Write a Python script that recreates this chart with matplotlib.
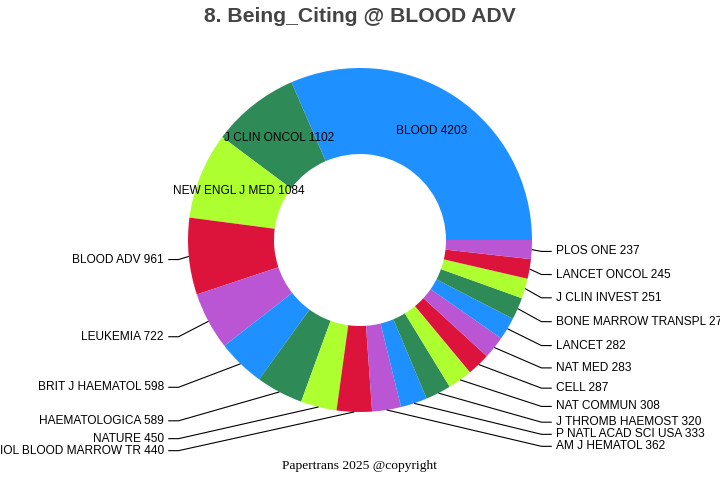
import numpy as np
import matplotlib
matplotlib.use("Agg")
import matplotlib.pyplot as plt

plt.rcParams['font.family'] = ['Liberation Sans', 'DejaVu Sans']

journals = [
    'BLOOD', 'J CLIN ONCOL', 'NEW ENGL J MED', 'BLOOD ADV', 'LEUKEMIA',
    'BRIT J HAEMATOL', 'HAEMATOLOGICA', 'NATURE', 'BIOL BLOOD MARROW TR',
    'AM J HEMATOL', 'P NATL ACAD SCI USA', 'J THROMB HAEMOST', 'NAT COMMUN',
    'CELL', 'NAT MED', 'LANCET', 'BONE MARROW TRANSPL', 'J CLIN INVEST',
    'LANCET ONCOL', 'PLOS ONE',
]
counts = [4203, 1102, 1084, 961, 722, 598, 589, 450, 440, 362,
          333, 320, 308, 287, 283, 282, 276, 251, 245, 237]
palette = ['#1E90FF', '#2E8B57', '#ADFF2F', '#DC143C', '#BA55D3']
n_inside = 3  # biggest slices get their label inside the ring

W, H, R_PX = 720, 480, 172.0
FS = 8.6

fig = plt.figure(figsize=(W / 100, H / 100), dpi=100)
ax = fig.add_axes([0, 0, 1, 1])

colors = [palette[i % len(palette)] for i in range(len(counts))]
wedges, _ = ax.pie(counts, colors=colors, startangle=0, counterclock=True,
                   radius=1.0, wedgeprops=dict(width=0.5, linewidth=0))

ax.set_xlim(-W / 2 / R_PX, W / 2 / R_PX)
ax.set_ylim(-H / 2 / R_PX, H / 2 / R_PX)
ax.set_aspect('equal')
ax.axis('off')

total = float(sum(counts))
edges = np.cumsum([0] + counts) / total * 360
mids = np.radians((edges[:-1] + edges[1:]) / 2)

# labels inside the ring
for i in range(n_inside):
    r = 0.76
    ax.text(r * np.cos(mids[i]), r * np.sin(mids[i]),
            f'{journals[i]} {counts[i]}', ha='center', va='center',
            fontsize=FS, color='black')

# outside labels with leader lines, spread apart on each side
gap = 12 / R_PX
left, right = [], []
for i in range(n_inside, len(counts)):
    y0 = 1.19 * np.sin(mids[i])
    (left if np.cos(mids[i]) < 0 else right).append([i, y0])

for side in (left, right):
    side.sort(key=lambda t: -t[1])
    for k in range(1, len(side)):
        if side[k][1] > side[k - 1][1] - gap:
            side[k][1] = side[k - 1][1] - gap

for side, sgn in ((left, -1), (right, 1)):
    elbow = 1.055 * sgn
    end = 1.115 * sgn
    tx = 1.14 * sgn
    for i, y in side:
        x0, y0 = np.cos(mids[i]), np.sin(mids[i])
        ax.plot([x0, elbow, end], [y0, y, y], color='black', lw=0.8,
                solid_capstyle='butt')
        ax.text(tx, y, f'{journals[i]} {counts[i]}',
                ha='right' if sgn < 0 else 'left', va='center',
                fontsize=FS, color='black')

fig.text(0.5, 1 - 17 / H, '8. Being_Citing @ BLOOD ADV', ha='center',
         va='center', fontsize=15.2, fontweight='bold', color='#444444')
fig.text(0.5, 1 - 466 / H, 'Papertrans 2025 @copyright', ha='center',
         va='center', fontsize=9.7, family='Liberation Serif', color='black')

fig.savefig('out.png', dpi=100)
